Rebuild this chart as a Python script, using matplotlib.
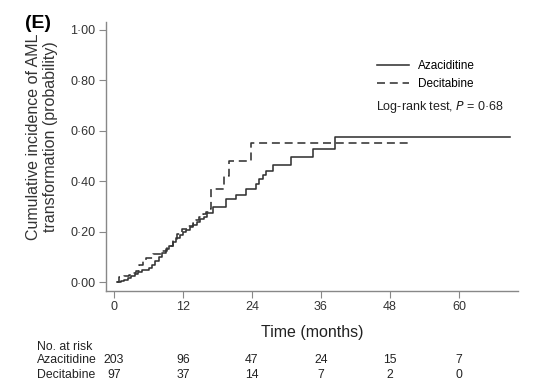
import matplotlib
matplotlib.use("Agg")
import matplotlib.pyplot as plt

plt.rcParams['font.family'] = ['Liberation Sans', 'DejaVu Sans']

# cumulative incidence (step-post)
aza_t = [0.5, 1.2, 1.8, 2.4, 3.0, 3.6, 4.2, 4.8, 6.1, 6.6, 7.2, 7.8, 8.4, 9.0,
         9.6, 10.2, 10.8, 11.4, 12.0, 12.6, 13.2, 13.8, 14.4, 15.0, 15.6, 16.2,
         17.2, 19.4, 21.2, 23.0, 24.7, 25.3, 25.9, 26.5, 27.6, 30.8, 34.6, 38.4, 68.9]
aza_p = [0.0, 0.005, 0.01, 0.017, 0.025, 0.032, 0.04, 0.048, 0.055, 0.07, 0.085,
         0.10, 0.115, 0.13, 0.145, 0.16, 0.175, 0.187, 0.198, 0.208, 0.218, 0.228,
         0.24, 0.25, 0.26, 0.275, 0.297, 0.328, 0.347, 0.367, 0.39, 0.41, 0.425,
         0.44, 0.463, 0.495, 0.528, 0.575, 0.575]

dec_t = [0.5, 0.9, 1.8, 2.6, 3.2, 3.8, 4.4, 5.0, 5.5, 6.8, 8.4, 9.2, 10.2, 11.0,
         11.9, 12.8, 13.7, 14.3, 14.8, 15.4, 16.0, 16.5, 16.9, 19.2, 20.0, 23.9, 51.8]
dec_p = [0.0, 0.02, 0.025, 0.03, 0.038, 0.045, 0.07, 0.085, 0.097, 0.11, 0.123,
         0.145, 0.17, 0.19, 0.21, 0.222, 0.235, 0.248, 0.26, 0.27, 0.278, 0.29,
         0.37, 0.42, 0.48, 0.553, 0.553]

xticks = [0, 12, 24, 36, 48, 60]
yticks = [0, 0.2, 0.4, 0.6, 0.8, 1.0]
ytick_labels = ["0·00", "0·20", "0·40", "0·60", "0·80", "1·00"]
risk_aza = [203, 96, 47, 24, 15, 7]
risk_dec = [97, 37, 14, 7, 2, 0]

fig = plt.figure(figsize=(5.54, 3.86), dpi=100)
ax = fig.add_axes([0.1913, 0.246, 0.744, 0.697])

ax.plot(aza_t, aza_p, drawstyle='steps-post', color='#333333', lw=1.15, label='Azaciditine')
ax.plot(dec_t, dec_p, drawstyle='steps-post', color='#333333', lw=1.15,
        linestyle=(0, (5, 3)), label='Decitabine')

ax.set_xlim(-1.4, 70.3)
ax.set_ylim(-0.035, 1.03)
for s in ['top', 'right']:
    ax.spines[s].set_visible(False)
for s in ['left', 'bottom']:
    ax.spines[s].set_color('#888888')
    ax.spines[s].set_linewidth(1.0)
ax.set_xticks(xticks)
ax.set_yticks(yticks)
ax.set_yticklabels(ytick_labels)
ax.tick_params(colors='#888888', labelcolor='#333333', labelsize=9, length=5, pad=2.5)

ax.set_ylabel("Cumulative incidence of AML\ntransformation (probability)",
              fontsize=11.5, color='#333333', linespacing=1.15)
ax.yaxis.set_label_coords(-0.116, 0.574)
ax.set_xlabel("Time (months)", fontsize=11.5, color='#222222', labelpad=8)

ax.legend(loc='upper left', bbox_to_anchor=(0.646, 0.877), frameon=False,
          fontsize=8.5, handlelength=2.7, handletextpad=0.8, labelspacing=0.55,
          borderaxespad=0)
fig.text(0.679, 0.724, "Log-rank test, $P$ = 0·68", fontsize=9, color='#222222',
         va='center')

fig.text(0.045, 0.939, "(E)", fontsize=14, fontweight='bold', va='center')

# numbers at risk
fig.text(0.066, 0.101, "No. at risk", fontsize=8.8, color='#222222', va='center')
fig.text(0.066, 0.067, "Azacitidine", fontsize=8.8, color='#222222', va='center')
fig.text(0.066, 0.0285, "Decitabine", fontsize=8.8, color='#222222', va='center')
for t, a, d in zip(xticks, risk_aza, risk_dec):
    xf = ax.transData.transform((t, 0))[0] / fig.bbox.width
    fig.text(xf, 0.067, str(a), fontsize=8.8, ha='center', va='center', color='#222222')
    fig.text(xf, 0.0285, str(d), fontsize=8.8, ha='center', va='center', color='#222222')

fig.savefig("out.png", dpi=100)
